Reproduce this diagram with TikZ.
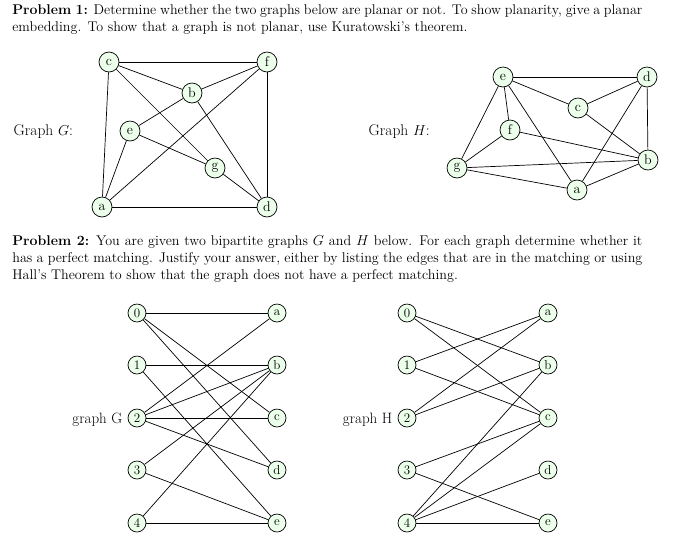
\documentclass[tikz,border=0pt]{standalone}
\begin{document}
\begin{tikzpicture}[x=1pt,y=-1pt,
 v/.style={circle,draw,fill=green!8,minimum size=20pt,inner sep=0pt,font=\fontsize{14}{15}\selectfont},
 bv/.style={v,minimum size=18pt,font=\fontsize{13}{14}\selectfont},
 every path/.style={line width=0.7pt},
 para/.style={anchor=north west,text width=630pt,inner sep=0pt,align=justify,font=\fontsize{14.1}{17}\selectfont},
 lab/.style={font=\fontsize{15.5}{17}\selectfont}]
\useasboundingbox (0,0) rectangle (688,550);
\node[para] (p1) at (12,4) {\textbf{Problem 1:} Determine whether the two graphs below are planar or not. To show planarity, give a planar embedding. To show that a graph is not planar, use Kuratowski's theorem.};
\node[para] (p2) at (12,235) {\textbf{Problem 2:} You are given two bipartite graphs $G$ and $H$ below. For each graph determine whether it has a perfect matching. Justify your answer, either by listing the edges that are in the matching or using Hall's Theorem to show that the graph does not have a perfect matching.};
\node[anchor=west,lab] (lg) at (10,132) {Graph $G$:};
\node[anchor=west,lab] (lh) at (365,132) {Graph $H$:};
% Graph G
\foreach \n/\x/\y in {c/109/62,f/267/62,b/192/93,e/130/131,g/215/168,a/102/207,d/267/207}
  \node[v] (G\n) at (\x,\y) {\n};
\foreach \s/\t in {c/f,c/b,c/g,c/a,b/f,b/e,b/d,f/a,f/d,e/a,e/g,g/d,a/d}
  \draw (G\s) -- (G\t);
% Graph H
\foreach \n/\x/\y in {e/503/77,d/647/77,c/578/108,f/510/130,b/648/160,g/457/168,a/577/190}
  \node[v] (H\n) at (\x,\y) {\n};
\foreach \s/\t in {e/d,e/c,e/f,e/g,e/a,c/d,c/b,d/b,d/a,f/g,f/b,g/b,g/a,a/b}
  \draw (H\s) -- (H\t);
% bipartite G
\foreach \n/\y in {0/313,1/365,2/418,3/470,4/523}
  \node[bv] (BGl\n) at (137,\y) {\n};
\foreach \n/\y in {a/313,b/365,c/418,d/470,e/523}
  \node[bv] (BGr\n) at (277,\y) {\n};
\foreach \s/\t in {0/a,0/c,0/d,1/b,1/e,2/a,2/b,2/c,2/d,3/b,3/e,4/b,4/e}
  \draw (BGl\s) -- (BGr\t);
% bipartite H
\foreach \n/\y in {0/313,1/365,2/418,3/470,4/523}
  \node[bv] (BHl\n) at (407,\y) {\n};
\foreach \n/\y in {a/313,b/365,c/418,d/470,e/523}
  \node[bv] (BHr\n) at (548,\y) {\n};
\foreach \s/\t in {0/b,0/c,1/a,1/c,2/a,2/b,3/c,3/e,4/b,4/c,4/d,4/e}
  \draw (BHl\s) -- (BHr\t);
\node[anchor=east,font=\fontsize{15}{16}\selectfont] (lbg) at (126,420) {graph G};
\node[anchor=east,font=\fontsize{15}{16}\selectfont] (lbh) at (396,420) {graph H};
\end{tikzpicture}
\end{document}
